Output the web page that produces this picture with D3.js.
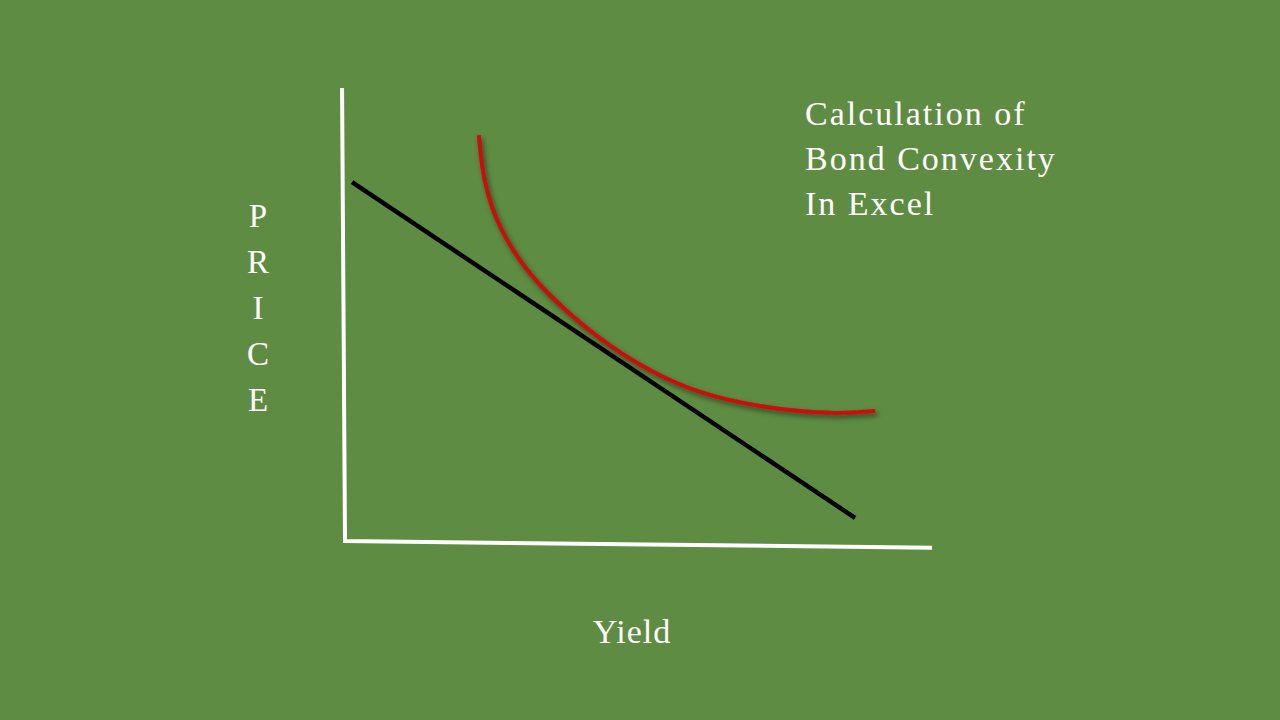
<!DOCTYPE html><html><head><meta charset="utf-8"><script src="https://cdn.jsdelivr.net/npm/d3@7"></script>
<style>body{margin:0;background:#5e8c42}</style></head><body><script>
const axisPts=[[-0.05,10],[0,0],[10,-0.15]];
const tangent=[[0.12,7.92],[8.69,0.51]];
const curve=[[2.28,8.96],[2.38,7.97],[2.59,7.09],[2.98,6.20],[3.49,5.43],[4.34,4.48],[5.20,3.77],[6.05,3.29],[7.07,2.98],[8.26,2.83],[9.03,2.87]];
const titleLines=["Calculation of","Bond Convexity","In Excel"];
const yLabel=["P","R","I","C","E"];
const xLabel="Yield";
const svg=d3.select("body").append("svg").attr("width",1280).attr("height",720);
svg.append("rect").attr("width",1280).attr("height",720).attr("fill","#5e8c42");
const defs=svg.append("defs");
const f=defs.append("filter").attr("id","sh").attr("x","-10%").attr("y","-10%").attr("width","120%").attr("height","120%");
f.append("feDropShadow").attr("dx",2).attr("dy",3).attr("stdDeviation",2.5).attr("flood-color","#000").attr("flood-opacity",0.5);
const x=d3.scaleLinear([0,10],[345,932]);
const y=d3.scaleLinear([0,10],[541,88]);
const line=d3.line(d=>x(d[0]),d=>y(d[1]));
svg.append("path").attr("d",line(axisPts)).attr("fill","none").attr("stroke","#fff").attr("stroke-width",4);
svg.append("path").attr("d",line(tangent)).attr("fill","none").attr("stroke","#000").attr("stroke-width",4.5);
svg.append("path").attr("d",line.curve(d3.curveCatmullRom)(curve)).attr("fill","none").attr("stroke","#cc0a0a").attr("stroke-width",4).attr("filter","url(#sh)");
const font="Liberation Serif, serif";
svg.append("g").selectAll("text").data(titleLines).join("text").attr("x",805).attr("y",(d,i)=>125+i*45)
 .attr("fill","#fff").attr("font-family",font).attr("font-size",34).attr("letter-spacing",2).text(d=>d);
svg.append("g").selectAll("text").data(yLabel).join("text").attr("x",258).attr("y",(d,i)=>227+i*46)
 .attr("text-anchor","middle").attr("fill","#fff").attr("font-family",font).attr("font-size",33).text(d=>d);
svg.append("text").attr("x",632).attr("y",643).attr("text-anchor","middle").attr("fill","#fff").attr("font-family",font).attr("font-size",34).attr("letter-spacing",1).text(xLabel);
</script></body></html>
